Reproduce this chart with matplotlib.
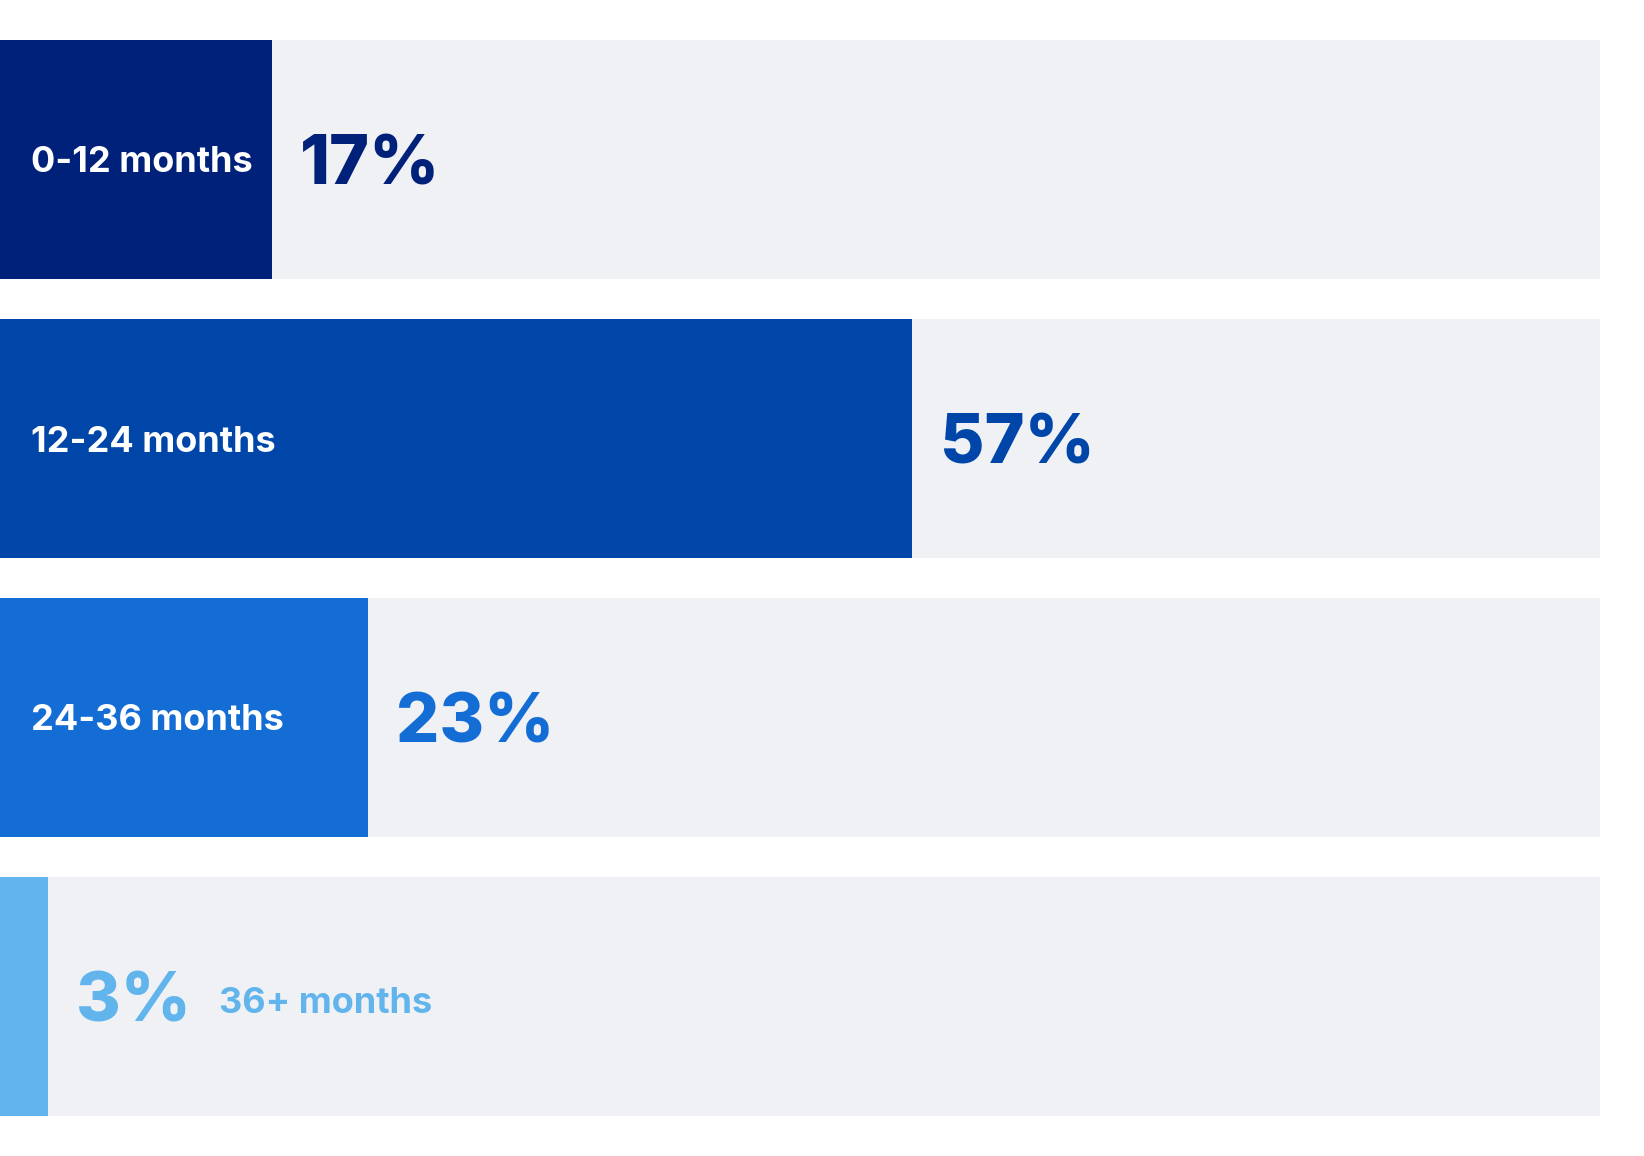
import matplotlib
matplotlib.use("Agg")
import matplotlib.pyplot as plt

categories = ["0-12 months", "12-24 months", "24-36 months", "36+ months"]
values = [17, 57, 23, 3]
pct_labels = ["17%", "57%", "23%", "3%"]
colors = ["#00217A", "#0046A9", "#146DD5", "#62B4EC"]
track_color = "#EFF1F4"

W, H = 1644, 1156
fig = plt.figure(figsize=(W / 100, H / 100), dpi=100)
ax = fig.add_axes([0, 0, 1, 1])
ax.set_xlim(0, 100 * W / 1600)
pitch = 279.0
ax.set_ylim((H - 159.5) / pitch, -159.5 / pitch)
ax.axis("off")

bar_h = 239 / pitch
y = list(range(len(categories)))
ax.barh(y, [100] * len(values), height=bar_h, color=track_color, left=0)
ax.barh(y, values, height=bar_h, color=colors, left=0)

fam = ["Inter", "DejaVu Sans"]
for i, (cat, v, p, c) in enumerate(zip(categories, values, pct_labels, colors)):
    inside = i < 3
    pt = ax.annotate(p, xy=(v, i), xytext=(28, 0), textcoords="offset pixels",
                     ha="left", va="center_baseline", fontsize=49, color=c,
                     fontweight="heavy", family=fam)
    if inside:
        ax.annotate(cat, xy=(0, i), xytext=(31, 0), textcoords="offset pixels",
                    ha="left", va="center_baseline", fontsize=26, color="white",
                    fontweight="bold", family=fam)
    else:
        ax.annotate(cat, xy=(1, 0.5), xycoords=pt, xytext=(28, 0),
                    textcoords="offset pixels", ha="left", va="center",
                    fontsize=26, color=c, fontweight="bold", family=fam)

fig.savefig("out.png", dpi=100, facecolor="white")
